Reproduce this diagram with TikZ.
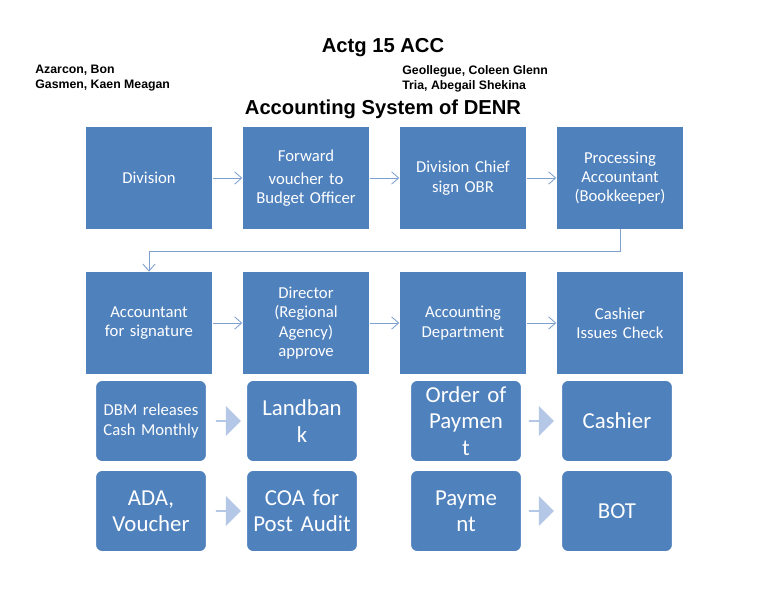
\documentclass[tikz,border=0pt]{standalone}
\usepackage{fontspec}
\setmainfont{Liberation Sans}
\newfontfamily\boxfont{Carlito}
\usetikzlibrary{shapes, arrows.meta, positioning, calc}
\definecolor{boxblue}{HTML}{4F81BD}
\definecolor{lineblue}{HTML}{7EA1CF}
\definecolor{fatblue}{HTML}{B4C7E7}
\begin{document}
\begin{tikzpicture}[x=0.02cm, y=-0.02cm,
    stage/.style={draw=none, fill=boxblue, text=white, minimum width=2.52cm, minimum height=2.04cm,
      align=center, text width=2.3cm, font=\boxfont\fontsize{9.5}{11}\selectfont},
    fact/.style={fill=boxblue, draw=white, line width=1pt, rounded corners=4pt, text=white,
      minimum width=2.12cm, minimum height=1.64cm, align=center, text width=2cm,
      font=\boxfont\fontsize{13}{15}\selectfont},
    link/.style={draw=lineblue, -{Straight Barb[length=4pt, width=7pt]}, line width=0.5pt},
    fat/.style={single arrow, fill=fatblue, draw=none, minimum height=0.5cm, minimum width=0.6cm,
      single arrow head extend=0.1cm, inner sep=0pt}]

    \useasboundingbox (0,0) rectangle (768,594);

    % ------------------ Header ------------------
    \node[font=\bfseries\fontsize{11.5}{13}\selectfont] (title) at (383,48) {Actg 15 ACC};
    \node[font=\bfseries\fontsize{7}{8.5}\selectfont, anchor=north west, align=left, inner sep=0pt] (left) at (35,65) {Azarcon, Bon\\Gasmen, Kaen Meagan};
    \node[font=\bfseries\fontsize{7}{8.5}\selectfont, anchor=north west, align=left, inner sep=0pt] (right) at (402,65) {Geollegue, Coleen Glenn\\Tria, Abegail Shekina};
    \node[font=\bfseries\fontsize{11.5}{13}\selectfont] (subtitle) at (383,109) {Accounting System of DENR};

    % ------------------ Process ------------------
    \node[stage] (s1) at (149,178) {Division};
    \node[stage] (s2) at (306,178) {Forward\\[2pt] voucher to Budget Officer};
    \node[stage] (s3) at (463,178) {Division Chief sign OBR};
    \node[stage] (s4) at (620,178) {Processing Accountant (Bookkeeper)};
    \node[stage] (s5) at (149,323) {Accountant for signature};
    \node[stage] (s6) at (306,323) {Director (Regional Agency) approve};
    \node[stage] (s7) at (463,323) {Accounting Department};
    \node[stage] (s8) at (620,323) {Cashier Issues Check};

    % Arrows
    \draw[link] (s1) -- (s2);
    \draw[link] (s2) -- (s3);
    \draw[link] (s3) -- (s4);
    \draw[link] (s4.south) -- ++(0,22) -| (s5.north);
    \draw[link] (s5) -- (s6);
    \draw[link] (s6) -- (s7);
    \draw[link] (s7) -- (s8);

    % ------------------ Funds ------------------
    \node[fact, font=\boxfont\fontsize{9.5}{11}\selectfont] (dbm) at (151,421) {DBM releases Cash Monthly};
    \node[fact] (bank) at (302,421) {Landban\\k};
    \node[fact] (order) at (466,421) {Order of Paymen\\t};
    \node[fact] (cash) at (617,421) {Cashier};
    \node[fact] (ada) at (151,511) {ADA, Voucher};
    \node[fact] (coa) at (302,511) {COA for Post Audit};
    \node[fact] (pay) at (466,511) {Payme\\nt};
    \node[fact] (bot) at (617,511) {BOT};

    \node[fat] (f1) at (228,421) {};
    \node[fat] (f2) at (541,421) {};
    \node[fat] (f3) at (228,511) {};
    \node[fat] (f4) at (541,511) {};

\end{tikzpicture}
\end{document}
